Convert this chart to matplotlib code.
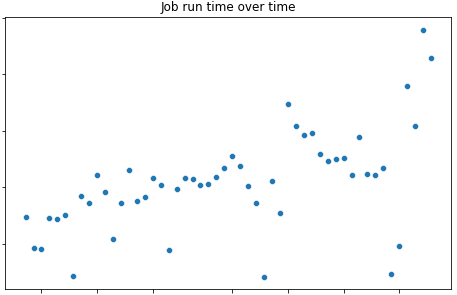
import pandas as pd
import matplotlib
matplotlib.use("Agg")
import matplotlib.pyplot as plt
import matplotlib.ticker as mticker
import seaborn as sns

# one job run per day
run_dates = pd.date_range("2023-03-06", "2023-04-26", freq="D")
run_times = [
    147.8, 92.9, 91.2, 146.0, 144.2, 151.3, 43.4, 185.0, 172.6, 222.1,
    192.0, 108.8, 172.6, 231.0, 176.1, 183.2, 216.8, 204.4, 89.4, 197.3,
    216.8, 215.0, 204.4, 206.2, 218.6, 234.5, 255.8, 238.1, 202.7, 172.6,
    41.6, 211.5, 154.9, 347.8, 308.8, 292.9, 296.5, 259.3, 246.9, 250.4,
    252.2, 222.1, 289.4, 223.9, 222.1, 234.5, 46.9, 96.5, 379.6, 308.8,
    478.8, 429.2,
]

df = pd.DataFrame({"date": run_dates, "runtime": run_times})

fig, ax = plt.subplots(figsize=(457 / 72, 295 / 72), dpi=72)
fig.subplots_adjust(left=0.0116, right=0.9875, top=0.9414, bottom=0.0193)

sns.scatterplot(data=df, x="date", y="runtime", ax=ax)

ax.yaxis.set_major_locator(mticker.MultipleLocator(100))
ax.tick_params(labelbottom=False, labelleft=False)
ax.set_xlabel("")
ax.set_ylabel("")
ax.set_title("Job run time over time")

fig.savefig("out.png", dpi=72)
